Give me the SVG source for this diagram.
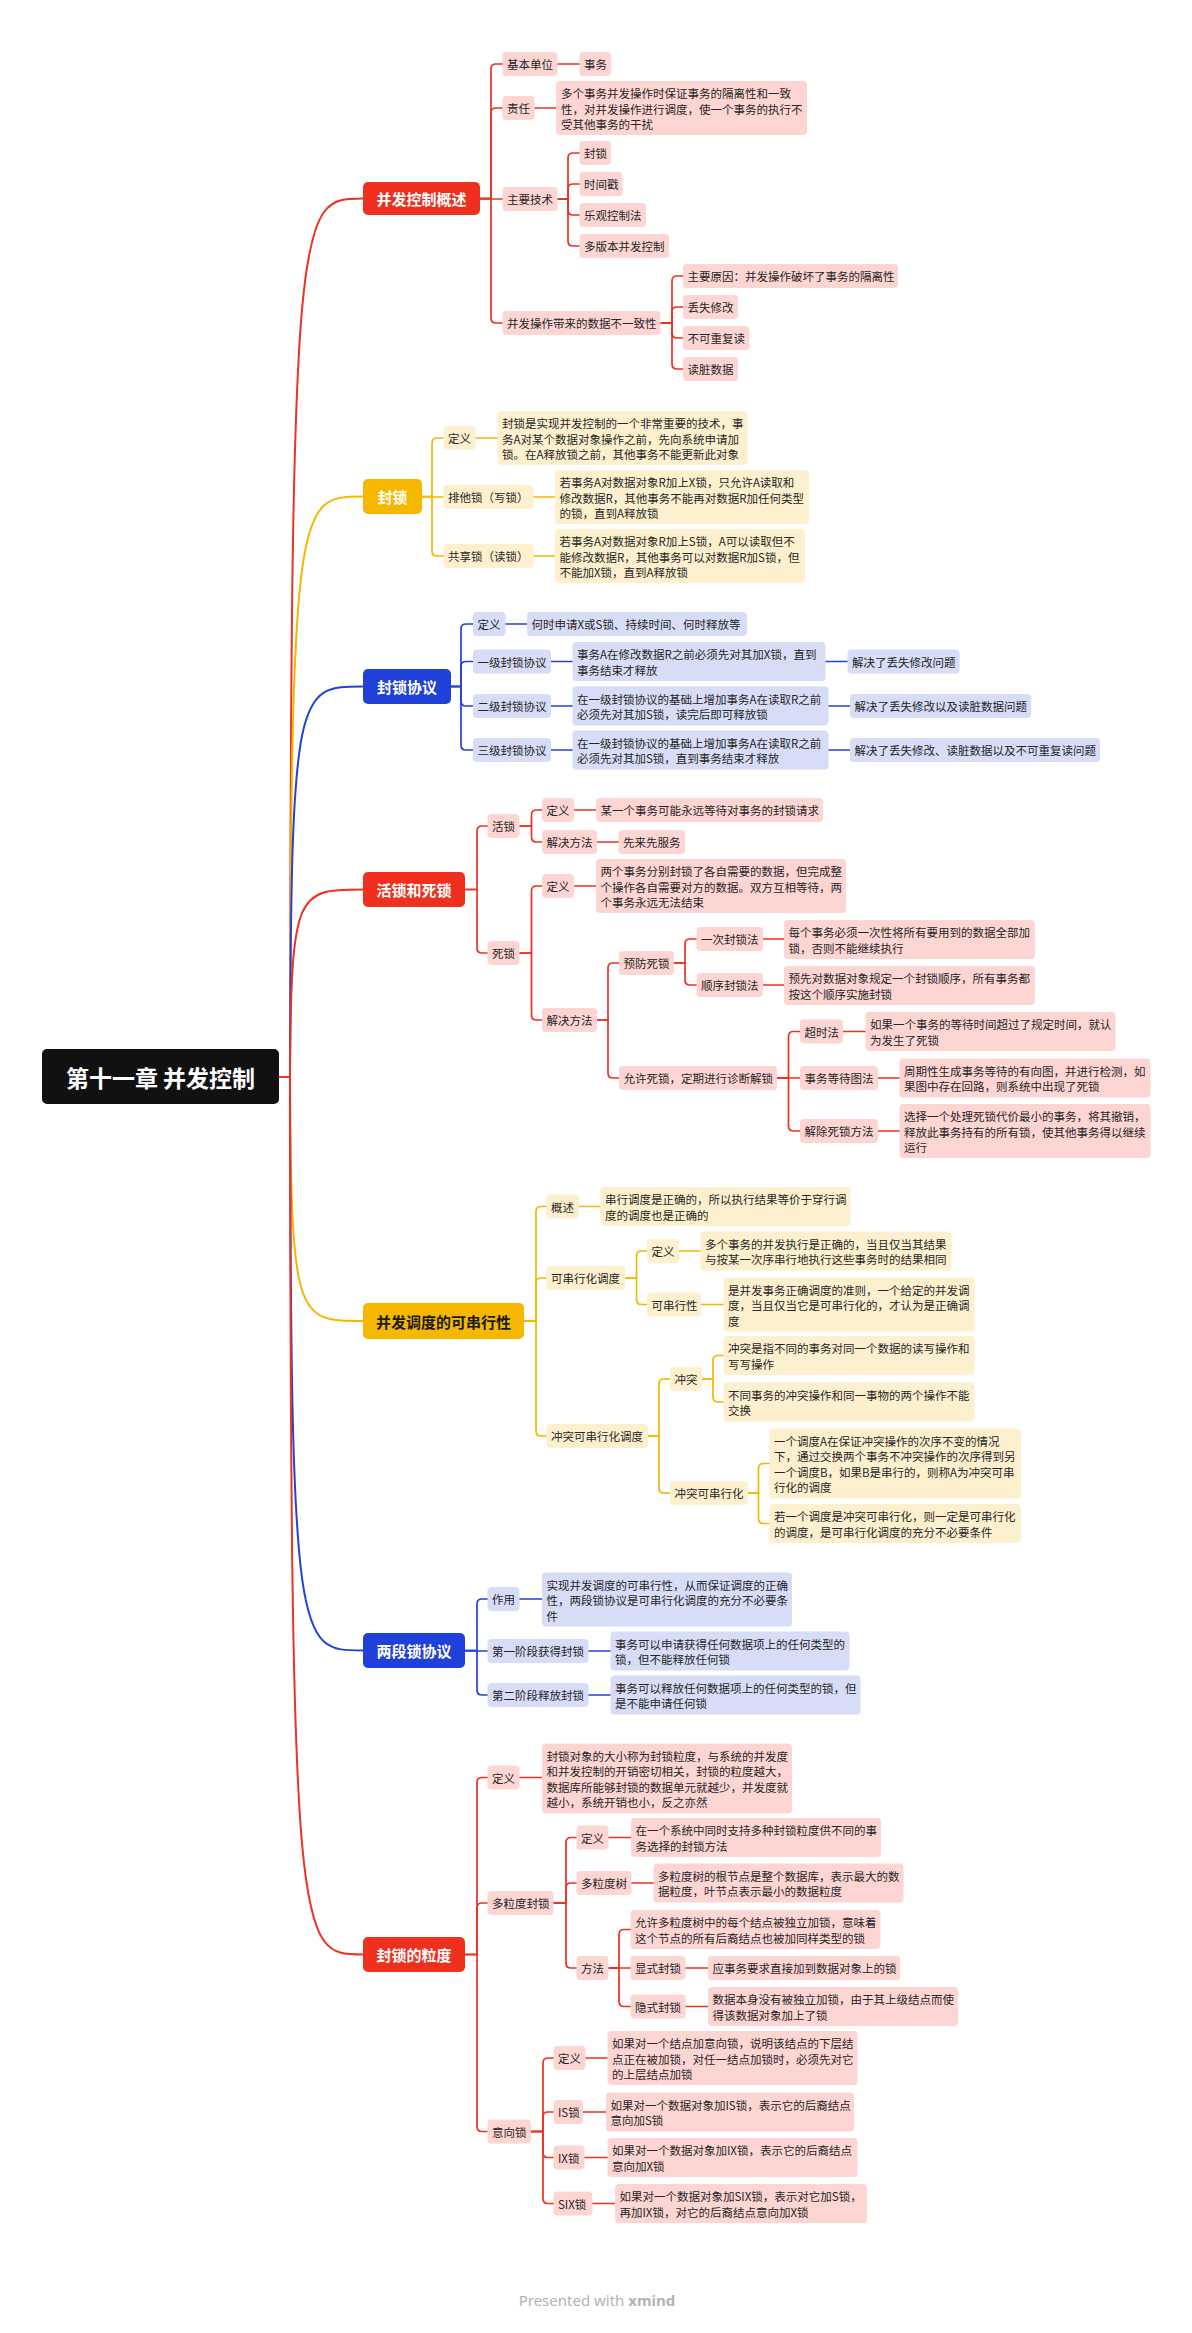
<svg xmlns="http://www.w3.org/2000/svg" width="1192" height="2333" viewBox="0 0 1192 2333">
<style>
.t{font-family:"Noto Sans CJK SC","Noto Sans",sans-serif;font-size:11.5px;fill:#262626;dominant-baseline:central}
.mt{font-family:"Noto Sans CJK SC","Noto Sans",sans-serif;font-size:15px;font-weight:700;fill:#fff;text-anchor:middle;dominant-baseline:central}
.mtd{fill:#1a1a1a}
.rm{fill:#F0301F}.ym{fill:#F5B700}.bm{fill:#1F40D9}
.rl{fill:#FDD5D3}.yl{fill:#FDF0CE}.bl{fill:#D7DCF7}
#connectors path{fill:none;stroke-width:1.7;stroke-linecap:round;stroke-linejoin:round}
#connectors .cr{stroke:#EB3223}#connectors .cy{stroke:#F5B700}#connectors .cb{stroke:#2442D6}
#connectors .main{stroke-width:2}
</style>
<rect width="1192" height="2333" fill="#fff"/>
<g id="connectors">
<path class="cr main" d="M279 1077 H290 C291 198.5 297 198.5 363 198.5"/>
<path class="cy main" d="M279 1077 H290 C291 496.5 297 496.5 363 496.5"/>
<path class="cb main" d="M279 1077 H290 C291 686.5 297 686.5 363 686.5"/>
<path class="cr main" d="M279 1077 H290 C291 889.5 297 889.5 363 889.5"/>
<path class="cy main" d="M279 1077 H290 C291 1321 297 1321 363 1321"/>
<path class="cb main" d="M279 1077 H290 C291 1650.5 297 1650.5 363 1650.5"/>
<path class="cr main" d="M279 1077 H290 C291 1954.5 297 1954.5 363 1954.5"/>
<!-- branch 1 -->
<path class="cr" d="M480 198.5 H491 V69 Q491 64 496 64 H502.5"/>
<path class="cr" d="M480 198.5 H491 V113 Q491 108 496 108 H502.5"/>
<path class="cr" d="M480 199 H502.5"/>
<path class="cr" d="M480 198.5 H491 V318 Q491 323 496 323 H502.5"/>
<path class="cr" d="M557.5 64 H579.5"/>
<path class="cr" d="M534.5 108 H556"/>
<path class="cr" d="M557.5 199 H568 V158 Q568 153 573 153 H579.5"/>
<path class="cr" d="M557.5 199 H568 V189 Q568 184 573 184 H579.5"/>
<path class="cr" d="M557.5 199 H568 V210 Q568 215 573 215 H579.5"/>
<path class="cr" d="M557.5 199 H568 V241 Q568 246 573 246 H579.5"/>
<path class="cr" d="M660.5 323 H672 V281 Q672 276 677 276 H683"/>
<path class="cr" d="M660.5 323 H672 V312 Q672 307 677 307 H683"/>
<path class="cr" d="M660.5 323 H672 V333 Q672 338 677 338 H683"/>
<path class="cr" d="M660.5 323 H672 V364 Q672 369 677 369 H683"/>
<!-- branch 2 -->
<path class="cy" d="M422 496.5 H432 V443 Q432 438 437 438 H443.5"/>
<path class="cy" d="M422 497 H443.5"/>
<path class="cy" d="M422 496.5 H432 V551 Q432 556 437 556 H443.5"/>
<path class="cy" d="M475.5 438 H497.5"/>
<path class="cy" d="M533.5 497 H555"/>
<path class="cy" d="M533.5 556 H555"/>
<!-- branch 3 -->
<path class="cb" d="M451 686.5 H461 V629 Q461 624 466 624 H473"/>
<path class="cb" d="M451 686.5 H461 V666.5 Q461 661.5 466 661.5 H473"/>
<path class="cb" d="M451 686.5 H461 V701 Q461 706 466 706 H473"/>
<path class="cb" d="M451 686.5 H461 V745 Q461 750 466 750 H473"/>
<path class="cb" d="M505.5 624 H527"/>
<path class="cb" d="M551 661.5 H572.5"/>
<path class="cb" d="M825.5 661.5 H847.5"/>
<path class="cb" d="M551 706 H572.5"/>
<path class="cb" d="M828.5 706 H850"/>
<path class="cb" d="M551 750 H572.5"/>
<path class="cb" d="M828.5 750 H850"/>
<!-- branch 4 -->
<path class="cr" d="M465 889.5 H477 V831 Q477 826 482 826 H487.5"/>
<path class="cr" d="M465 889.5 H477 V948 Q477 953 482 953 H487.5"/>
<path class="cr" d="M519.5 826 H531.5 V815 Q531.5 810 536.5 810 H542"/>
<path class="cr" d="M519.5 826 H531.5 V837 Q531.5 842 536.5 842 H542"/>
<path class="cr" d="M574 810 H596"/>
<path class="cr" d="M597 842 H618.5"/>
<path class="cr" d="M519.5 953 H531.5 V891 Q531.5 886 536.5 886 H542"/>
<path class="cr" d="M519.5 953 H531.5 V1015 Q531.5 1020 536.5 1020 H542"/>
<path class="cr" d="M574 886 H596"/>
<path class="cr" d="M597 1020 H608 V968 Q608 963 613 963 H619"/>
<path class="cr" d="M597 1020 H608 V1073 Q608 1078 613 1078 H619"/>
<path class="cr" d="M674 963 H685 V944 Q685 939 690 939 H696.5"/>
<path class="cr" d="M674 963 H685 V980 Q685 985 690 985 H696.5"/>
<path class="cr" d="M763 939 H784"/>
<path class="cr" d="M763 985 H784"/>
<path class="cr" d="M777 1078 H788.5 V1036.5 Q788.5 1031.5 793.5 1031.5 H800"/>
<path class="cr" d="M777 1078 H800"/>
<path class="cr" d="M777 1078 H788.5 V1126 Q788.5 1131 793.5 1131 H800"/>
<path class="cr" d="M843 1031.5 H865.5"/>
<path class="cr" d="M878 1078 H899.5"/>
<path class="cr" d="M878 1131 H899.5"/>
<!-- branch 5 -->
<path class="cy" d="M524 1321 H536 V1211.5 Q536 1206.5 541 1206.5 H546.5"/>
<path class="cy" d="M524 1321 H536 V1283 Q536 1278 541 1278 H546.5"/>
<path class="cy" d="M524 1321 H536 V1431 Q536 1436 541 1436 H546.5"/>
<path class="cy" d="M579 1206.5 H600.5"/>
<path class="cy" d="M625 1278 H636.5 V1256 Q636.5 1251 641.5 1251 H647"/>
<path class="cy" d="M625 1278 H636.5 V1299.5 Q636.5 1304.5 641.5 1304.5 H647"/>
<path class="cy" d="M679 1251 H700.5"/>
<path class="cy" d="M701 1304.5 H723.5"/>
<path class="cy" d="M648 1436 H659 V1384 Q659 1379 664 1379 H670"/>
<path class="cy" d="M648 1436 H659 V1488 Q659 1493 664 1493 H670"/>
<path class="cy" d="M702 1379 H713 V1360.5 Q713 1355.5 718 1355.5 H723.5"/>
<path class="cy" d="M702 1379 H713 V1397 Q713 1402 718 1402 H723.5"/>
<path class="cy" d="M748 1493 H758.5 V1468.5 Q758.5 1463.5 763.5 1463.5 H769.5"/>
<path class="cy" d="M748 1493 H758.5 V1518.5 Q758.5 1523.5 763.5 1523.5 H769.5"/>
<!-- branch 6 -->
<path class="cb" d="M465 1650.5 H477 V1604 Q477 1599 482 1599 H487.5"/>
<path class="cb" d="M465 1651 H487.5"/>
<path class="cb" d="M465 1650.5 H477 V1690 Q477 1695 482 1695 H487.5"/>
<path class="cb" d="M519.5 1599 H542"/>
<path class="cb" d="M588.5 1651 H610.5"/>
<path class="cb" d="M588.5 1695 H610.5"/>
<!-- branch 7 -->
<path class="cr" d="M465 1954.5 H477 V1782.5 Q477 1777.5 482 1777.5 H487.5"/>
<path class="cr" d="M465 1954.5 H477 V1908 Q477 1903 482 1903 H487.5"/>
<path class="cr" d="M465 1954.5 H477 V2126.5 Q477 2131.5 482 2131.5 H487.5"/>
<path class="cr" d="M519.5 1777.5 H542"/>
<path class="cr" d="M553.5 1903 H566 V1842.5 Q566 1837.5 571 1837.5 H576.5"/>
<path class="cr" d="M553.5 1903 H566 V1888 Q566 1883 571 1883 H576.5"/>
<path class="cr" d="M553.5 1903 H566 V1963 Q566 1968 571 1968 H576.5"/>
<path class="cr" d="M608.5 1837.5 H631"/>
<path class="cr" d="M631.5 1883 H653.5"/>
<path class="cr" d="M608.5 1968 H619 V1934.5 Q619 1929.5 624 1929.5 H630.5"/>
<path class="cr" d="M608.5 1968 H630.5"/>
<path class="cr" d="M608.5 1968 H619 V2001.5 Q619 2006.5 624 2006.5 H630.5"/>
<path class="cr" d="M685.5 1968 H708"/>
<path class="cr" d="M685.5 2006.5 H708"/>
<path class="cr" d="M531 2131.5 H543 V2063 Q543 2058 548 2058 H553.5"/>
<path class="cr" d="M531 2131.5 H543 V2117 Q543 2112 548 2112 H553.5"/>
<path class="cr" d="M531 2131.5 H543 V2152.5 Q543 2157.5 548 2157.5 H553.5"/>
<path class="cr" d="M531 2131.5 H543 V2198.5 Q543 2203.5 548 2203.5 H553.5"/>
<path class="cr" d="M585.5 2058 H607.5"/>
<path class="cr" d="M583 2112 H606"/>
<path class="cr" d="M584.5 2157.5 H607.5"/>
<path class="cr" d="M592.5 2203.5 H615"/>
</g>

<g id="root"><rect x="42" y="1049" width="237" height="55" rx="5" fill="#111"/><text x="160.5" y="1076.5" class="mt" style="font-size:23px">第十一章 并发控制</text></g>

<!-- Branch 1 -->
<g id="n1"><rect class="rm" x="363" y="182" width="117" height="33" rx="5"/><text class="mt" x="421.5" y="198.5">并发控制概述</text></g>
<g id="n1-1"><rect class="rl" x="502.5" y="52" width="55" height="24" rx="4"/><text class="t" x="507" y="64">基本单位</text></g>
<g id="n1-1-1"><rect class="rl" x="579.5" y="52" width="31.5" height="24" rx="4"/><text class="t" x="584" y="64">事务</text></g>
<g id="n1-2"><rect class="rl" x="502.5" y="96" width="32" height="24" rx="4"/><text class="t" x="507" y="108">责任</text></g>
<g id="n1-2-1"><rect class="rl" x="556" y="81" width="251" height="54" rx="4"/><text class="t"><tspan x="561" y="93">多个事务并发操作时保证事务的隔离性和一致</tspan><tspan x="561" y="108.5">性，对并发操作进行调度，使一个事务的执行不</tspan><tspan x="561" y="124">受其他事务的干扰</tspan></text></g>
<g id="n1-3"><rect class="rl" x="502.5" y="187" width="55" height="24" rx="4"/><text class="t" x="507" y="199">主要技术</text></g>
<g id="n1-3-1"><rect class="rl" x="579.5" y="141" width="31.5" height="24" rx="4"/><text class="t" x="584" y="153">封锁</text></g>
<g id="n1-3-2"><rect class="rl" x="579.5" y="172" width="43" height="24" rx="4"/><text class="t" x="584" y="184">时间戳</text></g>
<g id="n1-3-3"><rect class="rl" x="579.5" y="203" width="66.5" height="24" rx="4"/><text class="t" x="584" y="215">乐观控制法</text></g>
<g id="n1-3-4"><rect class="rl" x="579.5" y="234" width="89.5" height="24" rx="4"/><text class="t" x="584" y="246">多版本并发控制</text></g>
<g id="n1-4"><rect class="rl" x="502.5" y="311" width="158" height="24" rx="4"/><text class="t" x="507" y="323">并发操作带来的数据不一致性</text></g>
<g id="n1-4-1"><rect class="rl" x="683" y="264" width="215" height="24" rx="4"/><text class="t" x="687.5" y="276">主要原因：并发操作破坏了事务的隔离性</text></g>
<g id="n1-4-2"><rect class="rl" x="683" y="295" width="55" height="24" rx="4"/><text class="t" x="687.5" y="307">丢失修改</text></g>
<g id="n1-4-3"><rect class="rl" x="683" y="326" width="66.5" height="24" rx="4"/><text class="t" x="687.5" y="338">不可重复读</text></g>
<g id="n1-4-4"><rect class="rl" x="683" y="357" width="55" height="24" rx="4"/><text class="t" x="687.5" y="369">读脏数据</text></g>

<!-- Branch 2 -->
<g id="n2"><rect class="ym" x="363" y="479" width="59" height="35" rx="5"/><text class="mt" x="392.5" y="496.5">封锁</text></g>
<g id="n2-1"><rect class="yl" x="443.5" y="426" width="32" height="24" rx="4"/><text class="t" x="448" y="438">定义</text></g>
<g id="n2-1-1"><rect class="yl" x="497.5" y="411" width="250" height="54" rx="4"/><text class="t"><tspan x="502" y="423">封锁是实现并发控制的一个非常重要的技术，事</tspan><tspan x="502" y="438.5">务A对某个数据对象操作之前，先向系统申请加</tspan><tspan x="502" y="454">锁。在A释放锁之前，其他事务不能更新此对象</tspan></text></g>
<g id="n2-2"><rect class="yl" x="443.5" y="485" width="90" height="24" rx="4"/><text class="t" x="448" y="497">排他锁（写锁）</text></g>
<g id="n2-2-1"><rect class="yl" x="555" y="470" width="254" height="54" rx="4"/><text class="t"><tspan x="559.5" y="482">若事务A对数据对象R加上X锁，只允许A读取和</tspan><tspan x="559.5" y="497.5">修改数据R，其他事务不能再对数据R加任何类型</tspan><tspan x="559.5" y="513">的锁，直到A释放锁</tspan></text></g>
<g id="n2-3"><rect class="yl" x="443.5" y="544" width="90" height="24" rx="4"/><text class="t" x="448" y="556">共享锁（读锁）</text></g>
<g id="n2-3-1"><rect class="yl" x="555" y="529" width="250" height="54" rx="4"/><text class="t"><tspan x="559.5" y="541">若事务A对数据对象R加上S锁，A可以读取但不</tspan><tspan x="559.5" y="556.5">能修改数据R，其他事务可以对数据R加S锁，但</tspan><tspan x="559.5" y="572">不能加X锁，直到A释放锁</tspan></text></g>

<!-- Branch 3 -->
<g id="n3"><rect class="bm" x="363" y="669" width="88" height="35" rx="5"/><text class="mt" x="407" y="686.5">封锁协议</text></g>
<g id="n3-1"><rect class="bl" x="473" y="612" width="32.5" height="24" rx="4"/><text class="t" x="477.5" y="624">定义</text></g>
<g id="n3-1-1"><rect class="bl" x="527" y="612" width="220" height="24" rx="4"/><text class="t" x="531.5" y="624">何时申请X或S锁、持续时间、何时释放等</text></g>
<g id="n3-2"><rect class="bl" x="473" y="649.5" width="78" height="24" rx="4"/><text class="t" x="477.5" y="661.5">一级封锁协议</text></g>
<g id="n3-2-1"><rect class="bl" x="572.5" y="642" width="253" height="39" rx="4"/><text class="t"><tspan x="577" y="654">事务A在修改数据R之前必须先对其加X锁，直到</tspan><tspan x="577" y="669.5">事务结束才释放</tspan></text></g>
<g id="n3-2-2"><rect class="bl" x="847.5" y="649.5" width="112" height="24" rx="4"/><text class="t" x="852" y="661.5">解决了丢失修改问题</text></g>
<g id="n3-3"><rect class="bl" x="473" y="694" width="78" height="24" rx="4"/><text class="t" x="477.5" y="706">二级封锁协议</text></g>
<g id="n3-3-1"><rect class="bl" x="572.5" y="686.5" width="256" height="39" rx="4"/><text class="t"><tspan x="577" y="698.5">在一级封锁协议的基础上增加事务A在读取R之前</tspan><tspan x="577" y="714">必须先对其加S锁，读完后即可释放锁</tspan></text></g>
<g id="n3-3-2"><rect class="bl" x="850" y="694" width="181" height="24" rx="4"/><text class="t" x="854.5" y="706">解决了丢失修改以及读脏数据问题</text></g>
<g id="n3-4"><rect class="bl" x="473" y="738" width="78" height="24" rx="4"/><text class="t" x="477.5" y="750">三级封锁协议</text></g>
<g id="n3-4-1"><rect class="bl" x="572.5" y="730.5" width="256" height="39" rx="4"/><text class="t"><tspan x="577" y="742.5">在一级封锁协议的基础上增加事务A在读取R之前</tspan><tspan x="577" y="758">必须先对其加S锁，直到事务结束才释放</tspan></text></g>
<g id="n3-4-2"><rect class="bl" x="850" y="738" width="250" height="24" rx="4"/><text class="t" x="854.5" y="750">解决了丢失修改、读脏数据以及不可重复读问题</text></g>

<!-- Branch 4 -->
<g id="n4"><rect class="rm" x="363" y="872" width="102" height="35" rx="5"/><text class="mt" x="414" y="889.5">活锁和死锁</text></g>
<g id="n4-1"><rect class="rl" x="487.5" y="814" width="32" height="24" rx="4"/><text class="t" x="492" y="826">活锁</text></g>
<g id="n4-1-1"><rect class="rl" x="542" y="798" width="32" height="24" rx="4"/><text class="t" x="546.5" y="810">定义</text></g>
<g id="n4-1-1-1"><rect class="rl" x="596" y="798" width="227" height="24" rx="4"/><text class="t" x="600.5" y="810">某一个事务可能永远等待对事务的封锁请求</text></g>
<g id="n4-1-2"><rect class="rl" x="542" y="830" width="55" height="24" rx="4"/><text class="t" x="546.5" y="842">解决方法</text></g>
<g id="n4-1-2-1"><rect class="rl" x="618.5" y="830" width="66.5" height="24" rx="4"/><text class="t" x="623" y="842">先来先服务</text></g>
<g id="n4-2"><rect class="rl" x="487.5" y="941" width="32" height="24" rx="4"/><text class="t" x="492" y="953">死锁</text></g>
<g id="n4-2-1"><rect class="rl" x="542" y="874" width="32" height="24" rx="4"/><text class="t" x="546.5" y="886">定义</text></g>
<g id="n4-2-1-1"><rect class="rl" x="596" y="859" width="250" height="54" rx="4"/><text class="t"><tspan x="600.5" y="871">两个事务分别封锁了各自需要的数据，但完成整</tspan><tspan x="600.5" y="886.5">个操作各自需要对方的数据。双方互相等待，两</tspan><tspan x="600.5" y="902">个事务永远无法结束</tspan></text></g>
<g id="n4-2-2"><rect class="rl" x="542" y="1008" width="55" height="24" rx="4"/><text class="t" x="546.5" y="1020">解决方法</text></g>
<g id="n4-2-2-1"><rect class="rl" x="619" y="951" width="55" height="24" rx="4"/><text class="t" x="623.5" y="963">预防死锁</text></g>
<g id="n4-2-2-1-1"><rect class="rl" x="696.5" y="927" width="66.5" height="24" rx="4"/><text class="t" x="701" y="939">一次封锁法</text></g>
<g id="n4-2-2-1-1-1"><rect class="rl" x="784" y="920" width="251" height="39" rx="4"/><text class="t"><tspan x="788.5" y="932">每个事务必须一次性将所有要用到的数据全部加</tspan><tspan x="788.5" y="947.5">锁，否则不能继续执行</tspan></text></g>
<g id="n4-2-2-1-2"><rect class="rl" x="696.5" y="973" width="66.5" height="24" rx="4"/><text class="t" x="701" y="985">顺序封锁法</text></g>
<g id="n4-2-2-1-2-1"><rect class="rl" x="784" y="966" width="251" height="39" rx="4"/><text class="t"><tspan x="788.5" y="978">预先对数据对象规定一个封锁顺序，所有事务都</tspan><tspan x="788.5" y="993.5">按这个顺序实施封锁</tspan></text></g>
<g id="n4-2-2-2"><rect class="rl" x="619" y="1066" width="158" height="24" rx="4"/><text class="t" x="623.5" y="1078">允许死锁，定期进行诊断解锁</text></g>
<g id="n4-2-2-2-1"><rect class="rl" x="800" y="1019.5" width="43" height="24" rx="4"/><text class="t" x="804.5" y="1031.5">超时法</text></g>
<g id="n4-2-2-2-1-1"><rect class="rl" x="865.5" y="1012" width="250" height="39" rx="4"/><text class="t"><tspan x="870" y="1024">如果一个事务的等待时间超过了规定时间，就认</tspan><tspan x="870" y="1039.5">为发生了死锁</tspan></text></g>
<g id="n4-2-2-2-2"><rect class="rl" x="800" y="1066" width="78" height="24" rx="4"/><text class="t" x="804.5" y="1078">事务等待图法</text></g>
<g id="n4-2-2-2-2-1"><rect class="rl" x="899.5" y="1058.5" width="251" height="39" rx="4"/><text class="t"><tspan x="904" y="1070.5">周期性生成事务等待的有向图，并进行检测，如</tspan><tspan x="904" y="1086">果图中存在回路，则系统中出现了死锁</tspan></text></g>
<g id="n4-2-2-2-3"><rect class="rl" x="800" y="1119" width="78" height="24" rx="4"/><text class="t" x="804.5" y="1131">解除死锁方法</text></g>
<g id="n4-2-2-2-3-1"><rect class="rl" x="899.5" y="1104" width="251" height="54" rx="4"/><text class="t"><tspan x="904" y="1116">选择一个处理死锁代价最小的事务，将其撤销，</tspan><tspan x="904" y="1131.5">释放此事务持有的所有锁，使其他事务得以继续</tspan><tspan x="904" y="1147">运行</tspan></text></g>

<!-- Branch 5 -->
<g id="n5"><rect class="ym" x="363" y="1303" width="161" height="36" rx="5"/><text class="mt mtd" x="443.5" y="1321">并发调度的可串行性</text></g>
<g id="n5-1"><rect class="yl" x="546.5" y="1194.5" width="32.5" height="24" rx="4"/><text class="t" x="551" y="1206.5">概述</text></g>
<g id="n5-1-1"><rect class="yl" x="600.5" y="1187" width="250" height="39" rx="4"/><text class="t"><tspan x="605" y="1199">串行调度是正确的，所以执行结果等价于穿行调</tspan><tspan x="605" y="1214.5">度的调度也是正确的</tspan></text></g>
<g id="n5-2"><rect class="yl" x="546.5" y="1266" width="78.5" height="24" rx="4"/><text class="t" x="551" y="1278">可串行化调度</text></g>
<g id="n5-2-1"><rect class="yl" x="647" y="1239" width="32" height="24" rx="4"/><text class="t" x="651.5" y="1251">定义</text></g>
<g id="n5-2-1-1"><rect class="yl" x="700.5" y="1231.5" width="251" height="39" rx="4"/><text class="t"><tspan x="705" y="1243.5">多个事务的并发执行是正确的，当且仅当其结果</tspan><tspan x="705" y="1259">与按某一次序串行地执行这些事务时的结果相同</tspan></text></g>
<g id="n5-2-2"><rect class="yl" x="647" y="1292.5" width="54" height="24" rx="4"/><text class="t" x="651.5" y="1304.5">可串行性</text></g>
<g id="n5-2-2-1"><rect class="yl" x="723.5" y="1277.5" width="251" height="54" rx="4"/><text class="t"><tspan x="728" y="1289.5">是并发事务正确调度的准则，一个给定的并发调</tspan><tspan x="728" y="1305">度，当且仅当它是可串行化的，才认为是正确调</tspan><tspan x="728" y="1320.5">度</tspan></text></g>
<g id="n5-3"><rect class="yl" x="546.5" y="1424" width="101.5" height="24" rx="4"/><text class="t" x="551" y="1436">冲突可串行化调度</text></g>
<g id="n5-3-1"><rect class="yl" x="670" y="1367" width="32" height="24" rx="4"/><text class="t" x="674.5" y="1379">冲突</text></g>
<g id="n5-3-1-1"><rect class="yl" x="723.5" y="1336" width="251" height="39" rx="4"/><text class="t"><tspan x="728" y="1348">冲突是指不同的事务对同一个数据的读写操作和</tspan><tspan x="728" y="1363.5">写写操作</tspan></text></g>
<g id="n5-3-1-2"><rect class="yl" x="723.5" y="1382.5" width="251" height="39" rx="4"/><text class="t"><tspan x="728" y="1394.5">不同事务的冲突操作和同一事物的两个操作不能</tspan><tspan x="728" y="1410">交换</tspan></text></g>
<g id="n5-3-2"><rect class="yl" x="670" y="1481" width="78" height="24" rx="4"/><text class="t" x="674.5" y="1493">冲突可串行化</text></g>
<g id="n5-3-2-1"><rect class="yl" x="769.5" y="1428.5" width="251.5" height="70" rx="4"/><text class="t"><tspan x="774" y="1440.5">一个调度A在保证冲突操作的次序不变的情况</tspan><tspan x="774" y="1456">下，通过交换两个事务不冲突操作的次序得到另</tspan><tspan x="774" y="1471.5">一个调度B，如果B是串行的，则称A为冲突可串</tspan><tspan x="774" y="1487">行化的调度</tspan></text></g>
<g id="n5-3-2-2"><rect class="yl" x="769.5" y="1504" width="251.5" height="39" rx="4"/><text class="t"><tspan x="774" y="1516">若一个调度是冲突可串行化，则一定是可串行化</tspan><tspan x="774" y="1531.5">的调度，是可串行化调度的充分不必要条件</tspan></text></g>

<!-- Branch 6 -->
<g id="n6"><rect class="bm" x="363" y="1633" width="102" height="35" rx="5"/><text class="mt" x="414" y="1650.5">两段锁协议</text></g>
<g id="n6-1"><rect class="bl" x="487.5" y="1587" width="32" height="24" rx="4"/><text class="t" x="492" y="1599">作用</text></g>
<g id="n6-1-1"><rect class="bl" x="542" y="1572.5" width="250" height="54" rx="4"/><text class="t"><tspan x="546.5" y="1584.5">实现并发调度的可串行性，从而保证调度的正确</tspan><tspan x="546.5" y="1600">性，两段锁协议是可串行化调度的充分不必要条</tspan><tspan x="546.5" y="1615.5">件</tspan></text></g>
<g id="n6-2"><rect class="bl" x="487.5" y="1639" width="101" height="24" rx="4"/><text class="t" x="492" y="1651">第一阶段获得封锁</text></g>
<g id="n6-2-1"><rect class="bl" x="610.5" y="1631.5" width="239" height="39" rx="4"/><text class="t"><tspan x="615" y="1643.5">事务可以申请获得任何数据项上的任何类型的</tspan><tspan x="615" y="1659">锁，但不能释放任何锁</tspan></text></g>
<g id="n6-3"><rect class="bl" x="487.5" y="1683" width="101" height="24" rx="4"/><text class="t" x="492" y="1695">第二阶段释放封锁</text></g>
<g id="n6-3-1"><rect class="bl" x="610.5" y="1675.5" width="250" height="39" rx="4"/><text class="t"><tspan x="615" y="1687.5">事务可以释放任何数据项上的任何类型的锁，但</tspan><tspan x="615" y="1703">是不能申请任何锁</tspan></text></g>

<!-- Branch 7 -->
<g id="n7"><rect class="rm" x="363" y="1937" width="102" height="35" rx="5"/><text class="mt" x="414" y="1954.5">封锁的粒度</text></g>
<g id="n7-1"><rect class="rl" x="487.5" y="1765.5" width="32" height="24" rx="4"/><text class="t" x="492" y="1777.5">定义</text></g>
<g id="n7-1-1"><rect class="rl" x="542" y="1743.5" width="250" height="70" rx="4"/><text class="t"><tspan x="546.5" y="1755.5">封锁对象的大小称为封锁粒度，与系统的并发度</tspan><tspan x="546.5" y="1771">和并发控制的开销密切相关，封锁的粒度越大，</tspan><tspan x="546.5" y="1786.5">数据库所能够封锁的数据单元就越少，并发度就</tspan><tspan x="546.5" y="1802">越小，系统开销也小，反之亦然</tspan></text></g>
<g id="n7-2"><rect class="rl" x="487.5" y="1891" width="66" height="24" rx="4"/><text class="t" x="492" y="1903">多粒度封锁</text></g>
<g id="n7-2-1"><rect class="rl" x="576.5" y="1825.5" width="32" height="24" rx="4"/><text class="t" x="581" y="1837.5">定义</text></g>
<g id="n7-2-1-1"><rect class="rl" x="631" y="1818" width="250" height="39" rx="4"/><text class="t"><tspan x="635.5" y="1830">在一个系统中同时支持多种封锁粒度供不同的事</tspan><tspan x="635.5" y="1845.5">务选择的封锁方法</tspan></text></g>
<g id="n7-2-2"><rect class="rl" x="576.5" y="1871" width="55" height="24" rx="4"/><text class="t" x="581" y="1883">多粒度树</text></g>
<g id="n7-2-2-1"><rect class="rl" x="653.5" y="1863.5" width="250" height="39" rx="4"/><text class="t"><tspan x="658" y="1875.5">多粒度树的根节点是整个数据库，表示最大的数</tspan><tspan x="658" y="1891">据粒度，叶节点表示最小的数据粒度</tspan></text></g>
<g id="n7-2-3"><rect class="rl" x="576.5" y="1956" width="32" height="24" rx="4"/><text class="t" x="581" y="1968">方法</text></g>
<g id="n7-2-3-1"><rect class="rl" x="630.5" y="1910" width="250" height="39" rx="4"/><text class="t"><tspan x="635" y="1922">允许多粒度树中的每个结点被独立加锁，意味着</tspan><tspan x="635" y="1937.5">这个节点的所有后裔结点也被加同样类型的锁</tspan></text></g>
<g id="n7-2-3-2"><rect class="rl" x="630.5" y="1956" width="55" height="24" rx="4"/><text class="t" x="635" y="1968">显式封锁</text></g>
<g id="n7-2-3-2-1"><rect class="rl" x="708" y="1956" width="192" height="24" rx="4"/><text class="t" x="712.5" y="1968">应事务要求直接加到数据对象上的锁</text></g>
<g id="n7-2-3-3"><rect class="rl" x="630.5" y="1994.5" width="55" height="24" rx="4"/><text class="t" x="635" y="2006.5">隐式封锁</text></g>
<g id="n7-2-3-3-1"><rect class="rl" x="708" y="1987" width="250" height="39" rx="4"/><text class="t"><tspan x="712.5" y="1999">数据本身没有被独立加锁，由于其上级结点而使</tspan><tspan x="712.5" y="2014.5">得该数据对象加上了锁</tspan></text></g>
<g id="n7-3"><rect class="rl" x="487.5" y="2119.5" width="43.5" height="24" rx="4"/><text class="t" x="492" y="2131.5">意向锁</text></g>
<g id="n7-3-1"><rect class="rl" x="553.5" y="2046" width="32" height="24" rx="4"/><text class="t" x="558" y="2058">定义</text></g>
<g id="n7-3-1-1"><rect class="rl" x="607.5" y="2031" width="250" height="54" rx="4"/><text class="t"><tspan x="612" y="2043">如果对一个结点加意向锁，说明该结点的下层结</tspan><tspan x="612" y="2058.5">点正在被加锁，对任一结点加锁时，必须先对它</tspan><tspan x="612" y="2074">的上层结点加锁</tspan></text></g>
<g id="n7-3-2"><rect class="rl" x="553.5" y="2100" width="29.5" height="24" rx="4"/><text class="t" x="558" y="2112">IS锁</text></g>
<g id="n7-3-2-1"><rect class="rl" x="606" y="2092.5" width="248" height="39" rx="4"/><text class="t"><tspan x="610.5" y="2104.5">如果对一个数据对象加IS锁，表示它的后裔结点</tspan><tspan x="610.5" y="2120">意向加S锁</tspan></text></g>
<g id="n7-3-3"><rect class="rl" x="553.5" y="2145.5" width="31" height="24" rx="4"/><text class="t" x="558" y="2157.5">IX锁</text></g>
<g id="n7-3-3-1"><rect class="rl" x="607.5" y="2138" width="250" height="39" rx="4"/><text class="t"><tspan x="612" y="2150">如果对一个数据对象加IX锁，表示它的后裔结点</tspan><tspan x="612" y="2165.5">意向加X锁</tspan></text></g>
<g id="n7-3-4"><rect class="rl" x="553.5" y="2191.5" width="39" height="24" rx="4"/><text class="t" x="558" y="2203.5">SIX锁</text></g>
<g id="n7-3-4-1"><rect class="rl" x="615" y="2184" width="252" height="39" rx="4"/><text class="t"><tspan x="619.5" y="2196">如果对一个数据对象加SIX锁，表示对它加S锁，</tspan><tspan x="619.5" y="2211.5">再加IX锁，对它的后裔结点意向加X锁</tspan></text></g>

<text x="597" y="2300" text-anchor="middle" dominant-baseline="central" style="font-family:'Noto Sans','Liberation Sans',sans-serif;font-size:15px;fill:#b3b3b3">Presented with <tspan style="font-weight:700">xmind</tspan></text>
</svg>
